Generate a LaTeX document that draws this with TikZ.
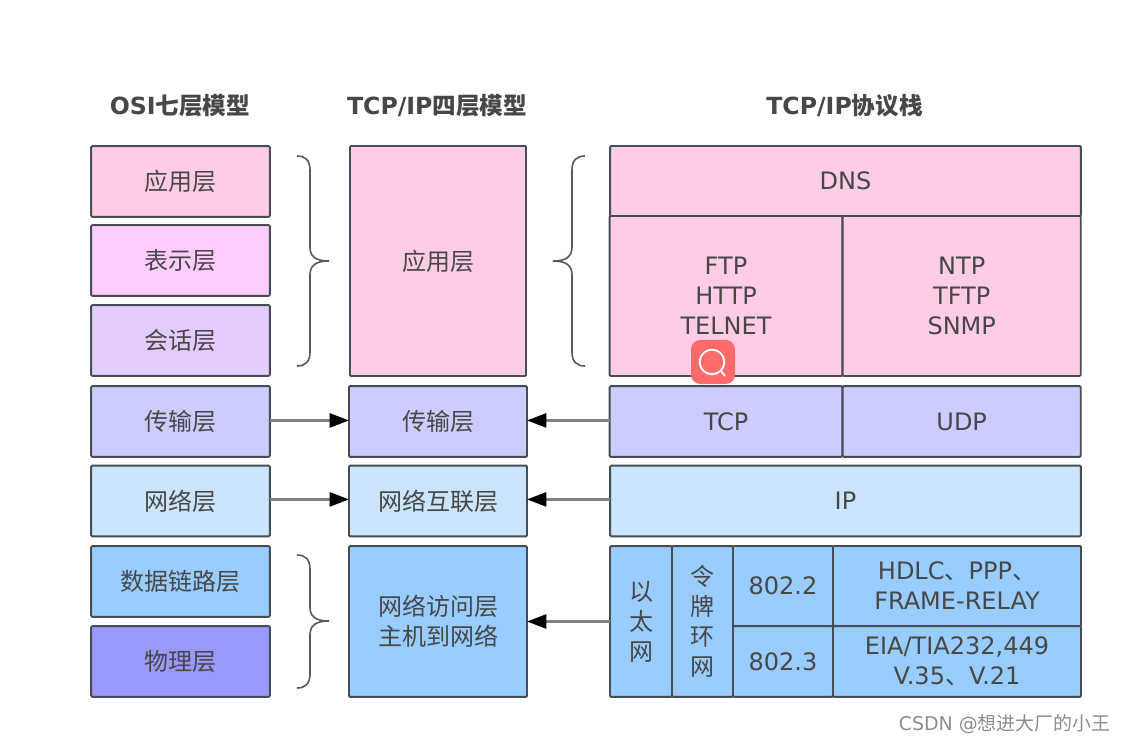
\documentclass[tikz,border=0pt]{standalone}
\usepackage{fontspec}
\setmainfont{DejaVu Sans}
\newfontfamily\cjk{Noto Sans CJK SC}
\usetikzlibrary{arrows.meta,positioning,calc}

\definecolor{edgegray}{HTML}{454D55}
\definecolor{textgray}{HTML}{474747}
\definecolor{pinkbox}{HTML}{FFCCE6}
\definecolor{magentabox}{HTML}{FFCCFF}
\definecolor{lilacbox}{HTML}{E5CCFF}
\definecolor{periwinkle}{HTML}{CCCCFF}
\definecolor{skybox}{HTML}{CCE5FF}
\definecolor{bluebox}{HTML}{99CCFF}
\definecolor{purplebox}{HTML}{9999FF}
\definecolor{badgered}{HTML}{FF6B6B}

\begin{document}
\begin{tikzpicture}[
    x=0.75pt, y=-0.75pt,
    box/.style={rectangle, draw=edgegray, line width=1.4pt, rounded corners=0.8pt, inner sep=0pt, outer sep=0pt, align=center, text=textgray, font=\fontsize{18}{22.5}\selectfont},
    title/.style={font=\fontsize{17.7}{22}\selectfont\bfseries, text=textgray},
    arrow/.style={-{Triangle[length=14.5pt,width=10.5pt,color=black]}, line width=1.9pt, draw=black!50},
    brace/.style={line width=1.2pt, draw=black!65},
    badge/.style={rectangle, fill=badgered, rounded corners=7pt, minimum size=33pt, inner sep=0pt},
    lens/.style={circle, draw=white, line width=1.4pt, minimum size=18.5pt, inner sep=0pt},
    watermark/.style={font=\fontsize{14.2}{17}\selectfont, text=black!45}
]
\useasboundingbox (0,0) rectangle (1125,743);

% Titles
\node[title] (osititle) at (180,106) {OSI{\cjk 七层模型}};
\node[title] (tcptitle) at (437,106) {TCP/IP{\cjk 四层模型}};
\node[title] (stacktitle) at (844.5,106) {TCP/IP{\cjk 协议栈}};

% OSI column
\node[box, fill=pinkbox, minimum width=134pt, minimum height=53pt] (osi_app) at (180.5,181.5) {\cjk 应用层};
\node[box, fill=magentabox, minimum width=134pt, minimum height=53pt] (osi_pres) at (180.5,260.5) {\cjk 表示层};
\node[box, fill=lilacbox, minimum width=134pt, minimum height=53pt] (osi_sess) at (180.5,340.5) {\cjk 会话层};
\node[box, fill=periwinkle, minimum width=134pt, minimum height=53pt] (osi_trans) at (180.5,421.5) {\cjk 传输层};
\node[box, fill=skybox, minimum width=134pt, minimum height=53pt] (osi_net) at (180.5,501) {\cjk 网络层};
\node[box, fill=bluebox, minimum width=134pt, minimum height=53pt] (osi_link) at (180.5,581.5) {\cjk 数据链路层};
\node[box, fill=purplebox, minimum width=134pt, minimum height=53pt] (osi_phy) at (180.5,661.5) {\cjk 物理层};

% TCP/IP column
\node[box, fill=pinkbox, minimum width=132pt, minimum height=172.5pt] (tcp_app) at (438,261) {\cjk 应用层};
\node[box, fill=periwinkle, minimum width=133.5pt, minimum height=53pt] (tcp_trans) at (438,421.5) {\cjk 传输层};
\node[box, fill=skybox, minimum width=133.5pt, minimum height=53pt] (tcp_net) at (438,501) {\cjk 网络互联层};
\node[box, fill=bluebox, minimum width=133.5pt, minimum height=113pt] (tcp_link) at (438,621.5) {\cjk 网络访问层\\\cjk 主机到网络};

% Protocol stack
\node[box, fill=pinkbox, minimum width=353pt, minimum height=52.5pt] (dns) at (845.5,181) {DNS};
\node[box, fill=pinkbox, minimum width=174.5pt, minimum height=120pt] (ftp) at (726,296) {FTP\\HTTP\\TELNET};
\node[box, fill=pinkbox, minimum width=178.5pt, minimum height=120pt] (ntp) at (961.7,296) {NTP\\TFTP\\SNMP};
\node[box, fill=periwinkle, minimum width=174.5pt, minimum height=53pt] (tcp) at (726,421.5) {TCP};
\node[box, fill=periwinkle, minimum width=178.5pt, minimum height=53pt] (udp) at (961.7,421.5) {UDP};
\node[box, fill=skybox, minimum width=353pt, minimum height=53pt] (ip) at (845.5,501) {IP};
\node[box, fill=bluebox, minimum width=46.5pt, minimum height=113pt] (ether) at (641,621.5) {\cjk 以\\\cjk 太\\\cjk 网};
\node[box, fill=bluebox, minimum width=45.75pt, minimum height=113pt] (token) at (702.5,621.5) {\cjk 令\\\cjk 牌\\\cjk 环\\\cjk 网};
\node[box, fill=bluebox, minimum width=75pt, minimum height=60pt] (llc) at (783,586) {802.2};
\node[box, fill=bluebox, minimum width=75pt, minimum height=53pt] (mac) at (783,661.5) {802.3};
\node[box, fill=bluebox, minimum width=186pt, minimum height=60pt] (hdlc) at (957,586) {HDLC{\cjk 、}PPP{\cjk 、}\\FRAME-RELAY};
\node[box, fill=bluebox, minimum width=186pt, minimum height=53pt] (eia) at (957,661.5) {EIA/TIA232,449\\V.35{\cjk 、}V.21};

% Arrows
\draw[arrow, transform canvas={yshift=0.8pt}] (osi_trans) -- (tcp_trans);
\draw[arrow, transform canvas={yshift=1.2pt}] (osi_net) -- (tcp_net);
\draw[arrow, transform canvas={yshift=0.8pt}] (tcp) -- (tcp_trans);
\draw[arrow, transform canvas={yshift=1.2pt}] (ip) -- (tcp_net);
\draw[arrow] (ether) -- (tcp_link);

% Braces
\draw[brace] (297,156) .. controls (305,156) and (310,160) .. (310,170) -- (310,247) .. controls (310,256) and (315,261) .. (329,261) .. controls (315,261) and (310,266) .. (310,275) -- (310,352) .. controls (310,362) and (305,366) .. (297,366);
\draw[brace] (585,156) .. controls (577,156) and (572,160) .. (572,170) -- (572,247) .. controls (572,256) and (567,261) .. (553,261) .. controls (567,261) and (572,266) .. (572,275) -- (572,352) .. controls (572,362) and (577,366) .. (585,366);
\draw[brace] (297,555) .. controls (305,555) and (310,559) .. (310,569) -- (310,607) .. controls (310,616) and (315,621) .. (329,621) .. controls (315,621) and (310,626) .. (310,635) -- (310,674) .. controls (310,684) and (305,688) .. (297,688);

% Search badge
\node[badge] (badge) at (713,362) {};
\node[lens] (glass) at (712,362) {};
\coordinate (handle) at (725,376);
\draw[white, line width=1.4pt] (glass.south east) -- (handle);

% Watermark
\node[watermark, anchor=east] (mark) at (1115,724) {CSDN @{\cjk 想进大厂的小王}};

\end{tikzpicture}
\end{document}
